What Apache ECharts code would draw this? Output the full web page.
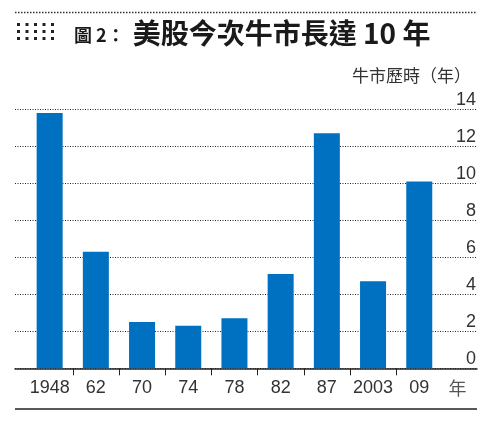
<!DOCTYPE html>
<html>
<head>
<meta charset="utf-8">
<style>
html,body{margin:0;padding:0;background:#fff;}
#chart{width:491px;height:424px;}
</style>
<script src="https://cdn.jsdelivr.net/npm/echarts@6/dist/echarts.min.js"></script>
</head>
<body>
<div id="chart"></div>
<script>
// ---- data ----
const categories = ['1948', '62', '70', '74', '78', '82', '87', '2003', '09'];
const durations = [13.8, 6.3, 2.5, 2.3, 2.7, 5.1, 12.7, 4.7, 10.1];
const yTicks = [0, 2, 4, 6, 8, 10, 12, 14];
const unitLabel = '年';
const yAxisName = '牛市歷時（年）';
const titlePrefix = '圖 2：';
const titleMain = '美股今次牛市長達 10 年';

const chart = echarts.init(document.getElementById('chart'), null, {renderer: 'canvas'});

const barData = durations.map((v, i) => [i, v]);
const tickPositions = categories.slice(1).map((_, i) => i + 0.5);
const unitPos = categories.length - 0.17;
const labelPositions = categories.map((_, i) => i).concat([unitPos]);

// decorative dot icon
const dots = [];
for (let r = 0; r < 3; r++) {
  for (let c = 0; c < 5; c++) {
    dots.push({type: 'rect', shape: {x: 17 + c * 8.5, y: 23 + r * 7, width: 3, height: 3}, style: {fill: '#222'}});
  }
}

const option = {
  animation: false,
  backgroundColor: '#fff',
  title: [{
    text: '{a|' + titlePrefix + '}{b|' + titleMain + '}',
    left: 69, top: 14,
    textStyle: {
      rich: {
        a: {fontFamily: 'Noto Sans CJK TC', fontWeight: 'bold', fontSize: 18, color: '#1a1a1a', verticalAlign: 'bottom', padding: [0, 8, 3, 0]},
        b: {fontFamily: 'Noto Sans CJK TC', fontWeight: 'bold', fontSize: 28, color: '#1a1a1a', verticalAlign: 'bottom'}
      }
    }
  }, {
    text: yAxisName,
    right: 15, top: 62,
    textStyle: {fontFamily: 'Noto Sans CJK TC', fontWeight: 'normal', fontSize: 17, color: '#333'}
  }],
  graphic: [
    {type: 'line', shape: {x1: 15, y1: 12.5, x2: 477, y2: 12.5}, style: {stroke: '#333', lineWidth: 1.5, lineDash: [1.5, 1.5]}},
    {type: 'line', shape: {x1: 15, y1: 409, x2: 477, y2: 409}, style: {stroke: '#222', lineWidth: 1.5}}
  ].concat(dots),
  grid: {left: 15, right: 14, top: 109.3, bottom: 55.7, containLabel: false},
  xAxis: {
    type: 'value',
    min: -0.75,
    max: categories.length + 0.25,
    splitLine: {show: false},
    axisLine: {show: true, onZero: false, lineStyle: {color: '#222', width: 1.5}},
    axisTick: {show: true, customValues: tickPositions, length: 7, lineStyle: {color: '#222', width: 1}},
    axisLabel: {
      customValues: labelPositions,
      margin: 11,
      fontFamily: 'Liberation Sans, Arial, sans-serif',
      fontSize: 18,
      color: '#333',
      formatter: function (v) {
        const i = Math.round(v);
        if (Math.abs(v - unitPos) < 0.01) return '{u|' + unitLabel + '}';
        return categories[i] !== undefined ? categories[i] : '';
      },
      rich: {u: {fontFamily: 'Noto Sans CJK TC', fontSize: 18, color: '#555'}}
    }
  },
  yAxis: {
    type: 'value',
    position: 'right',
    min: 0, max: 14, interval: 2,
    axisLine: {show: false},
    axisTick: {show: false},
    splitLine: {show: true, lineStyle: {color: '#222', width: 1, type: [1, 1.5]}},
    axisLabel: {
      inside: true,
      margin: 1,
      verticalAlign: 'bottom',
      padding: [0, 0, 0, 0],
      fontFamily: 'Liberation Sans, Arial, sans-serif',
      fontSize: 18,
      color: '#333',
      formatter: function (v) { return yTicks.indexOf(v) >= 0 ? String(v) : ''; }
    }
  },
  series: [{
    type: 'bar',
    data: barData,
    barWidth: 26,
    itemStyle: {color: '#0070c0'}
  }]
};
chart.setOption(option);
</script>
</body>
</html>
